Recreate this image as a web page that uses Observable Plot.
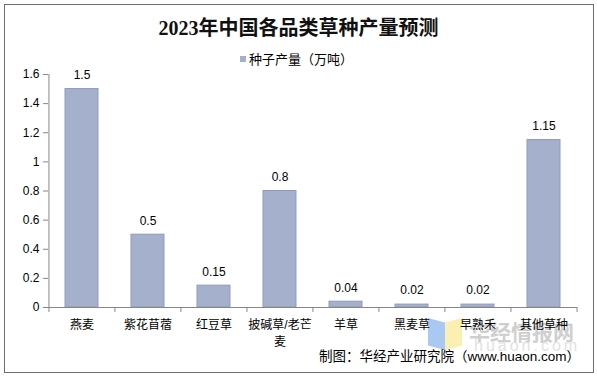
<!DOCTYPE html>
<html><head><meta charset="utf-8">
<script src="https://cdn.jsdelivr.net/npm/d3@7"></script>
<script src="https://cdn.jsdelivr.net/npm/@observablehq/plot@0.6"></script>
<style>
html,body{margin:0;padding:0;background:#fff;}
#wrap{position:relative;width:597px;height:378px;overflow:hidden;font-family:"Liberation Sans","Noto Sans CJK SC",sans-serif;color:#000;}
#border{position:absolute;left:4px;top:4px;width:590px;height:369px;box-sizing:border-box;border:1px solid #6e6e6e;}
#title{position:absolute;left:0;top:16px;width:597px;text-align:center;font:bold 20px/24px "Liberation Serif","Noto Sans CJK SC",serif;color:#111;}
#legend{position:absolute;left:240px;top:51px;font-size:13px;line-height:18px;white-space:nowrap;}
#legend .sw{display:inline-block;width:6px;height:6px;background:#a5b0cc;margin-right:3px;vertical-align:2px;}
#caption{position:absolute;right:17px;top:348px;font-size:13.5px;line-height:18px;white-space:nowrap;}
#chart{position:absolute;left:0;top:60px;z-index:2;}
#logoB{position:absolute;left:428px;top:318px;width:17px;height:32px;background:#a9c9f3;clip-path:polygon(0 0,100% 14%,100% 100%,0 86%);z-index:1;}
#logoY{position:absolute;left:445px;top:318px;width:17px;height:32px;background:#fbefb2;clip-path:polygon(0 14%,100% 0,100% 86%,0 100%);z-index:1;}
#wm1{position:absolute;left:469px;top:319px;font:bold 21px/24px "Noto Sans CJK SC",sans-serif;color:#cfcfcf;letter-spacing:0px;z-index:1;}
#wm2{position:absolute;left:474px;top:337px;font:16px/18px "Liberation Sans",sans-serif;color:#e2e2e2;letter-spacing:3px;z-index:1;}
</style></head><body>
<div id="wrap">
  <div id="border"></div>
  <div id="title">2023年中国各品类草种产量预测</div>
  <div id="legend"><span class="sw"></span>种子产量（万吨）</div>
  <div id="logoB"></div><div id="logoY"></div>
  <div id="wm1">华经情报网</div><div id="wm2">huaon.com</div>
  <div id="chart"></div>
  <div id="caption">制图：华经产业研究院（www.huaon.com）</div>
</div>
<script>
const categories = ["燕麦", "紫花苜蓿", "红豆草", "披碱草/老芒麦", "羊草", "黑麦草", "早熟禾", "其他草种"];
const values = [1.5, 0.5, 0.15, 0.8, 0.04, 0.02, 0.02, 1.15];
const tickLabels = ["燕麦", "紫花苜蓿", "红豆草", "披碱草/老芒\n麦", "羊草", "黑麦草", "早熟禾", "其他草种"];
const yTicks = [0, 0.2, 0.4, 0.6, 0.8, 1, 1.2, 1.4, 1.6];
const yTickLabels = ["0", "0.2", "0.4", "0.6", "0.8", "1", "1.2", "1.4", "1.6"];

const data = categories.map((c, i) => ({category: c, value: values[i]}));
const labelOf = new Map(categories.map((c, i) => [c, tickLabels[i]]));
const yLabelOf = new Map(yTicks.map((t, i) => [t, yTickLabels[i]]));

const W = 597, H = 300, mL = 48, mR = 20;
const step = (W - mL - mR) / categories.length; // paddingInner .5, paddingOuter .25
const axisColor = "#868686";

const chart = Plot.plot({
  width: W, height: H,
  marginTop: 14, marginBottom: 53, marginLeft: mL, marginRight: mR,
  x: {domain: categories, paddingInner: 0.5, paddingOuter: 0.25},
  y: {domain: [0, 1.6]},
  style: {background: "transparent", fontFamily: '"Liberation Sans","Noto Sans CJK SC",sans-serif', fontSize: "12px", color: "#000"},
  marks: [
    Plot.barY(data, {x: "category", y: "value", fill: "#a5b0cc", stroke: "#8e9bbb", strokeWidth: 1}),
    Plot.ruleY([0], {stroke: axisColor}),
    Plot.ruleX([categories[0]], {x: d => d, dx: -step / 2, y1: 0, y2: 1.6, stroke: axisColor}),
    Plot.ruleX(categories, {x: d => d, dx: -step / 2, y1: 0, y2: -0.034, stroke: axisColor}),
    Plot.ruleX([categories[categories.length - 1]], {x: d => d, dx: step / 2, y1: 0, y2: -0.034, stroke: axisColor}),
    Plot.axisY({ticks: yTicks, tickFormat: d => yLabelOf.get(d), tickSize: 5, tickPadding: 4, stroke: axisColor, strokeOpacity: 1, fill: "#000", fontSize: 12, label: null}),
    Plot.axisX({tickSize: 0, tickPadding: 10, tickFormat: d => labelOf.get(d), fontSize: 12, lineHeight: 1.4, fill: "#000", label: null}),
    Plot.text(data, {x: "category", y: "value", text: d => String(d.value), dy: -14, fontSize: 12, fill: "#000"})
  ]
});
document.getElementById("chart").appendChild(chart);
</script>
</body></html>
